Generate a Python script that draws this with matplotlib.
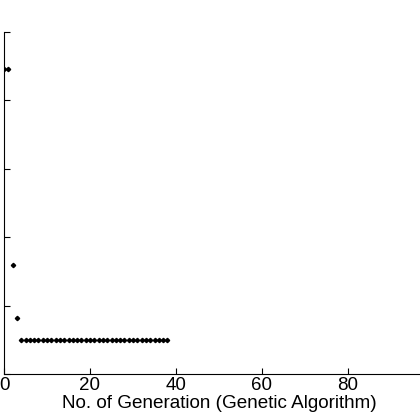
import matplotlib
matplotlib.use("Agg")
import matplotlib.pyplot as plt

generations = [0, 1, 2, 3] + list(range(4, 39))
fitness = [4.46, 4.46, 1.59, 0.82] + [0.50] * 35
xticks = [0, 20, 40, 60, 80, 100]

plt.rcParams['font.family'] = ['Liberation Sans', 'DejaVu Sans']
fig = plt.figure(figsize=(4.2, 4.2), dpi=100)
ax = fig.add_axes([4/420, 46/420, 430/420, 342/420])
ax.plot(generations, fitness, linestyle='none', marker='D', markersize=2.2, color='black')
ax.set_xlim(0, 100)
ax.set_ylim(0, 5)
ax.set_xticks(xticks)
ax.set_yticks([0, 1, 2, 3, 4, 5])
ax.set_yticklabels([])
ax.tick_params(direction='in', length=4, labelsize=13.5, width=0.8, pad=2)
ax.spines['top'].set_visible(False)
ax.set_xlabel('No. of Generation (Genetic Algorithm)', fontsize=13.6, labelpad=1)
fig.savefig('out.png', dpi=100)
